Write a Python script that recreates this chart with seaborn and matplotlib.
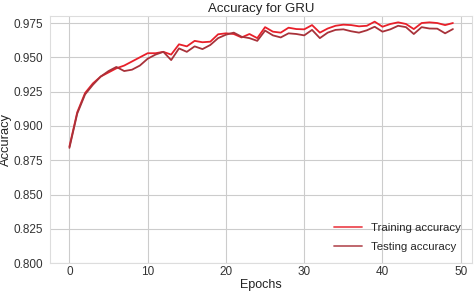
import matplotlib
matplotlib.use("Agg")
import matplotlib.pyplot as plt
import seaborn as sns
import pandas as pd

epochs = list(range(50))
training_accuracy = [0.885, 0.910, 0.924, 0.931, 0.936, 0.939, 0.942, 0.944, 0.947, 0.950,
                     0.953, 0.953, 0.954, 0.952, 0.9595, 0.958, 0.962, 0.961, 0.9614, 0.9668,
                     0.9675, 0.967, 0.9645, 0.967, 0.964, 0.972, 0.9687, 0.968, 0.9716, 0.9706,
                     0.9704, 0.9735, 0.968, 0.971, 0.973, 0.9738, 0.9735, 0.9726, 0.973, 0.976,
                     0.9723, 0.9743, 0.9755, 0.9743, 0.9706, 0.975, 0.9755, 0.975, 0.9735, 0.975]
testing_accuracy = [0.884, 0.909, 0.923, 0.930, 0.936, 0.940, 0.943, 0.940, 0.941, 0.944,
                    0.949, 0.952, 0.954, 0.948, 0.9565, 0.954, 0.958, 0.956, 0.959, 0.964,
                    0.9665, 0.968, 0.965, 0.964, 0.962, 0.9695, 0.966, 0.9645, 0.9675, 0.967,
                    0.966, 0.970, 0.964, 0.968, 0.970, 0.9704, 0.969, 0.968, 0.9697, 0.9723,
                    0.9687, 0.9704, 0.973, 0.972, 0.967, 0.972, 0.971, 0.9709, 0.9675, 0.9706]
yticks = [0.800, 0.825, 0.850, 0.875, 0.900, 0.925, 0.950, 0.975]
xticks = [0, 10, 20, 30, 40, 50]

sns.set_style("whitegrid")
plt.rcParams['font.family'] = ['Liberation Sans', 'DejaVu Sans']

df = pd.DataFrame({
    "Epochs": epochs * 2,
    "Accuracy": training_accuracy + testing_accuracy,
    "Series": ["Training accuracy"] * 50 + ["Testing accuracy"] * 50,
})

fig = plt.figure(figsize=(4.74, 2.94), dpi=100)
ax = fig.add_axes([0.106, 0.105, 0.89, 0.84])
sns.lineplot(data=df, x="Epochs", y="Accuracy", hue="Series",
             palette={"Training accuracy": "#e8202a", "Testing accuracy": "#a8323a"},
             linewidth=1.3, ax=ax)
ax.set_ylim(0.800, 0.980)
ax.set_yticks(yticks)
ax.set_yticklabels([f"{t:.3f}" for t in yticks])
ax.set_xticks(xticks)
ax.tick_params(axis="both", labelsize=8.5, colors="#333333", length=0)
ax.tick_params(axis="x", pad=2)
ax.tick_params(axis="y", pad=5)
ax.set_xlabel("Epochs", fontsize=9, color="#222222")
ax.set_ylabel("Accuracy", fontsize=9.3, color="#222222")
ax.xaxis.set_label_coords(0.5, -0.09)
ax.xaxis.label.set_va("center")
ax.yaxis.set_label_coords(-0.104, 0.5)
ax.yaxis.label.set_va("center")
ax.set_title("Accuracy for GRU", fontsize=9.5, color="#222222", pad=3)
for s in ax.spines.values():
    s.set_color("#dddddd")
leg = ax.legend(loc="lower right", frameon=False, fontsize=8.2, handlelength=2.4,
                borderaxespad=0.6, labelspacing=0.75)
for h in leg.get_lines():
    h.set_alpha(0.8)
fig.savefig("out.png", dpi=100)
